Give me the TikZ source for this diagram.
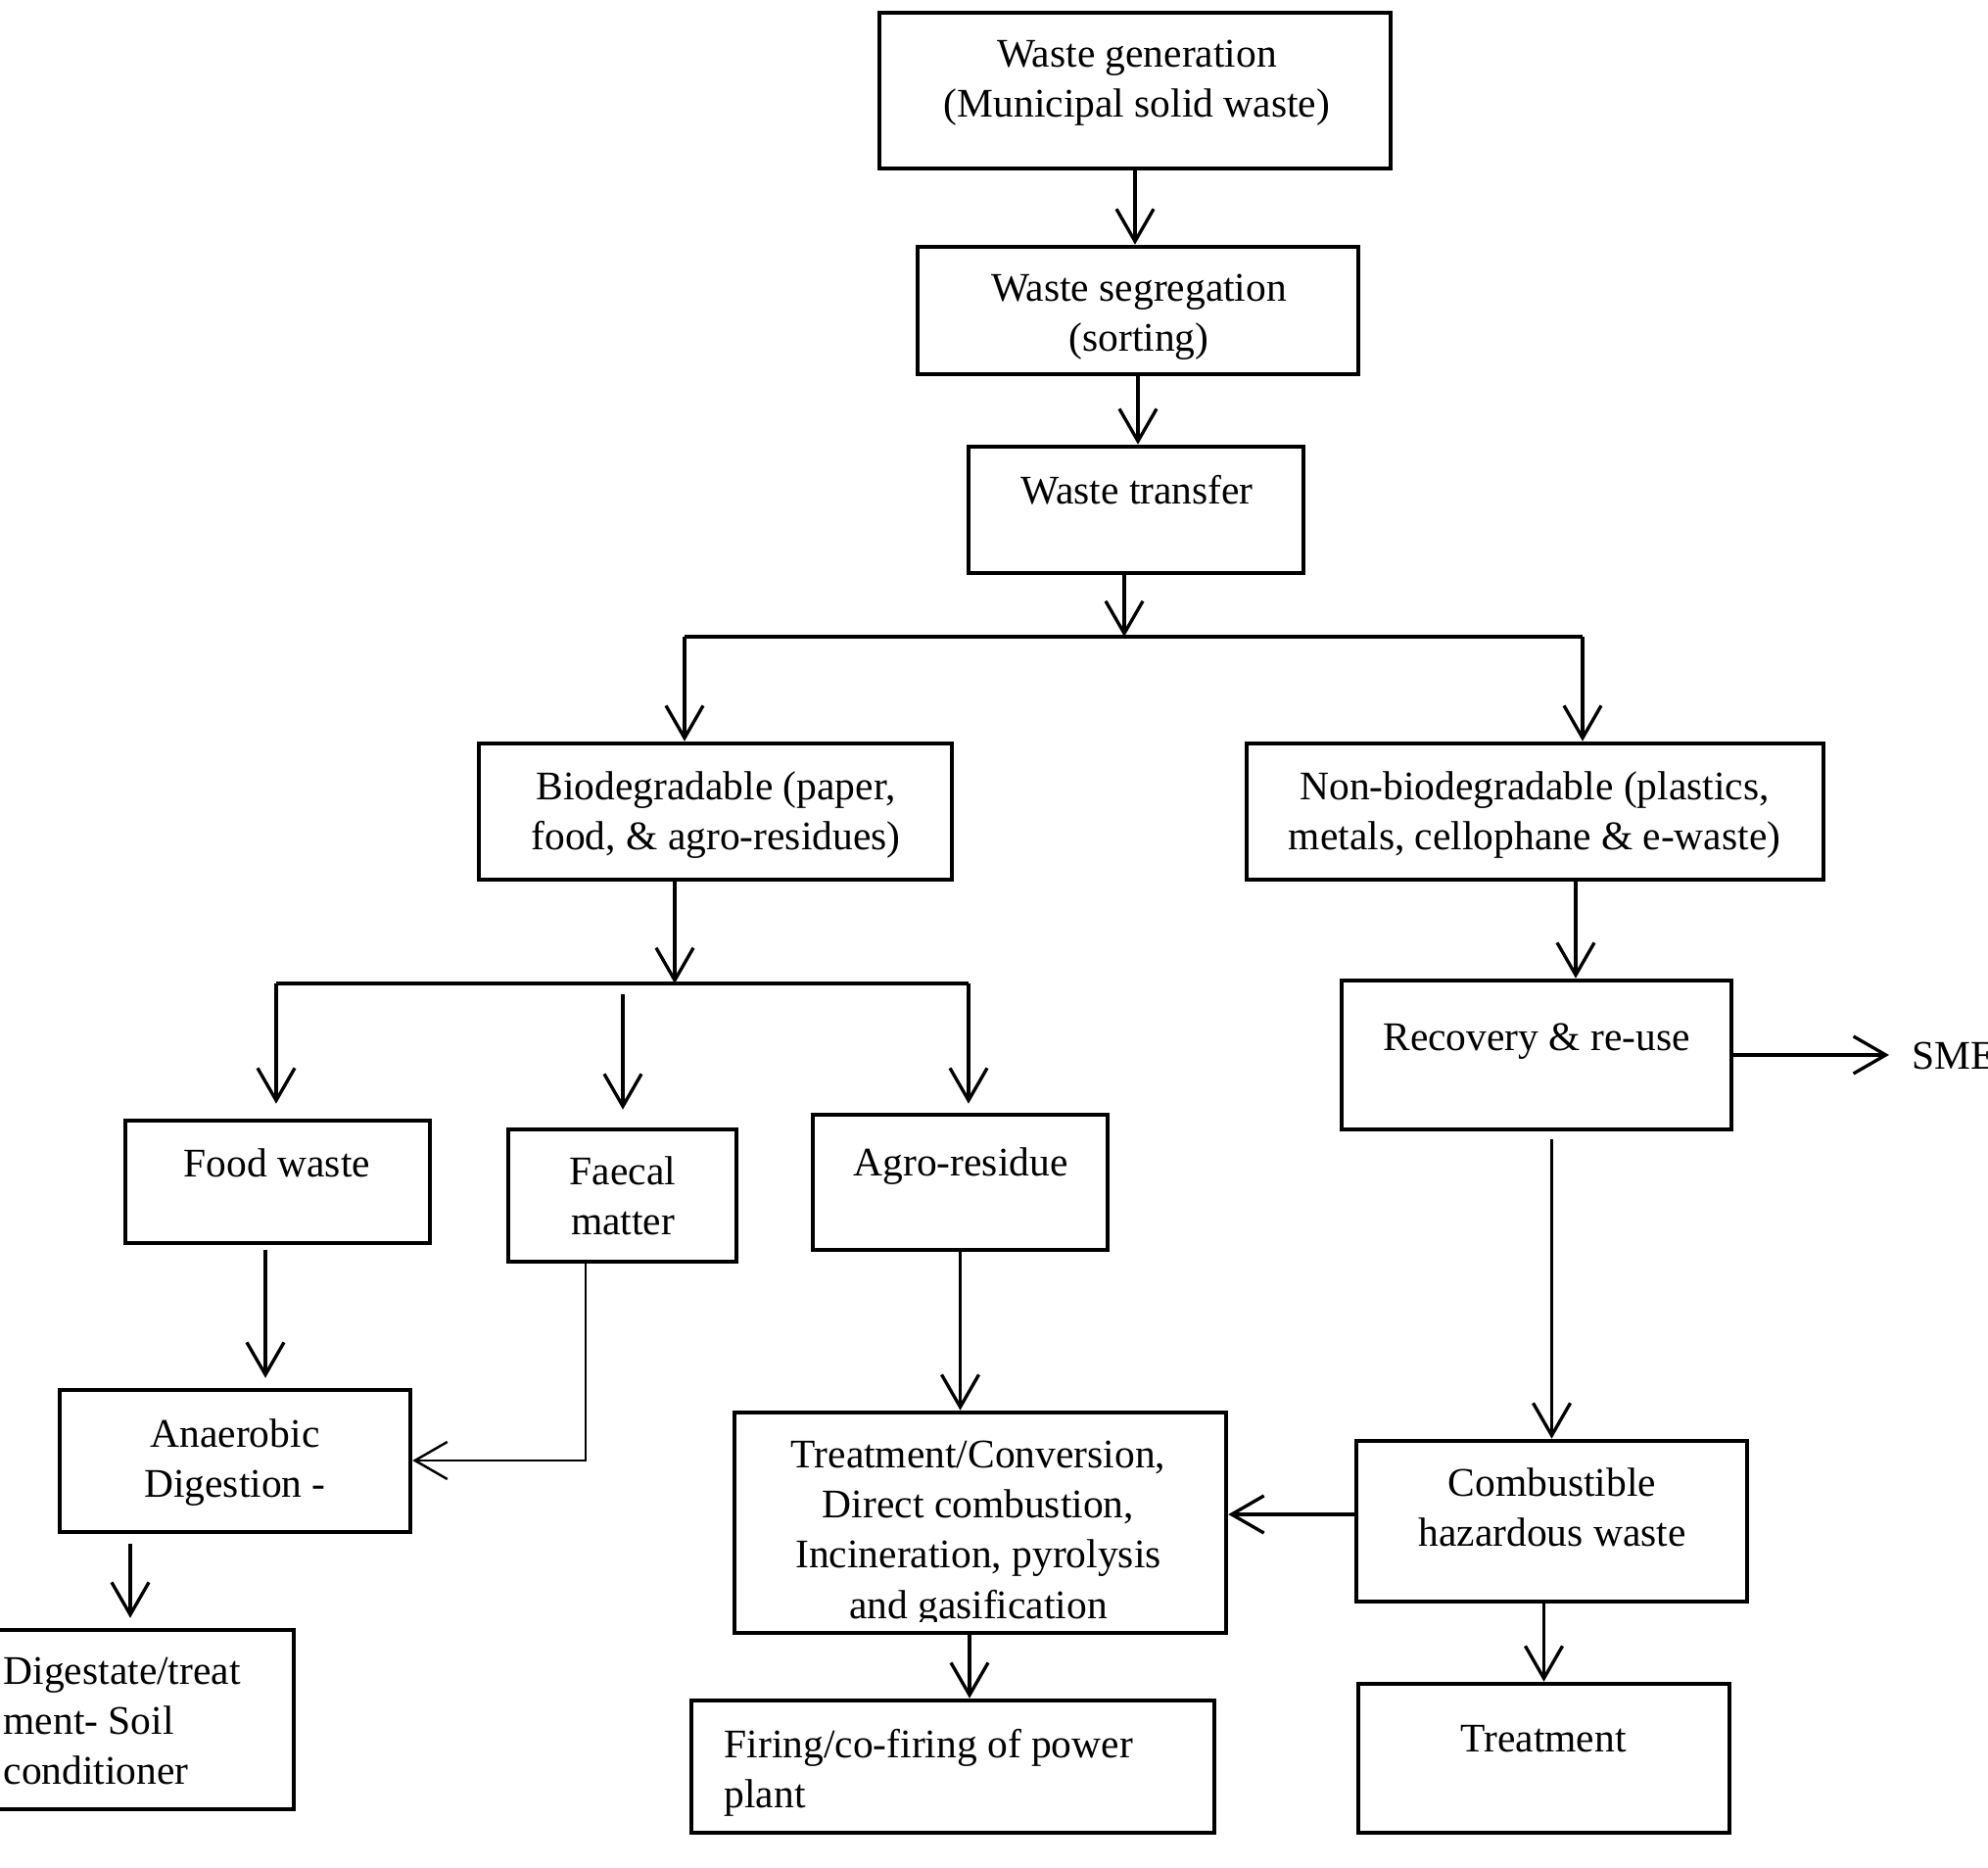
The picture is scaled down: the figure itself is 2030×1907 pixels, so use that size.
\documentclass[tikz,border=0pt]{standalone}
\usepackage{fontspec}
\setmainfont{Liberation Serif}
\usetikzlibrary{arrows.meta,fit,calc}

\begin{document}
\begin{tikzpicture}[
    x=0.01cm, y=-0.01cm,
    box/.style={draw, line width=1.3pt, inner sep=0pt},
    txt/.style={font=\fontsize{11.8}{14.6}\selectfont, align=center, inner sep=0pt},
    arrow/.style={-{Straight Barb[length=3.3mm,width=3.8mm]}, line width=0.95pt},
    link/.style={line width=0.95pt}
]
    \useasboundingbox (0,0) rectangle (2030,1907);

    % Boxes
    \node[box, fit={(898,13) (1420,172)}] (gen) {};
    \node[box, fit={(937,252) (1387,382)}] (seg) {};
    \node[box, fit={(989,456) (1331,585)}] (transfer) {};
    \node[box, fit={(489,759) (972,898)}] (bio) {};
    \node[box, fit={(1273,759) (1862,898)}] (nonbio) {};
    \node[box, fit={(128,1144) (439,1269)}] (food) {};
    \node[box, fit={(519,1153) (752,1288)}] (faecal) {};
    \node[box, fit={(830,1138) (1131,1276)}] (agro) {};
    \node[box, fit={(1370,1001) (1768,1153)}] (recovery) {};
    \node[box, fit={(61,1419) (419,1564)}] (anaer) {};
    \node[box, fit={(-20,1664) (300,1847)}] (digest) {};
    \node[box, fit={(750,1442) (1252,1667)}] (tc) {};
    \node[box, fit={(1385,1471) (1784,1635)}] (comb) {};
    \node[box, fit={(706,1736) (1240,1871)}] (firing) {};
    \node[box, fit={(1387,1719) (1766,1871)}] (treat) {};

    % Texts
    \node[txt] (gen-t) at (1161,85) {Waste generation\\(Municipal solid waste)};
    \node[txt] (seg-t) at (1163,324) {Waste segregation\\(sorting)};
    \node[txt] (transfer-t) at (1161,500) {Waste transfer};
    \node[txt] (bio-t) at (731,832) {Biodegradable (paper,\\food, \& agro-residues)};
    \node[txt] (nonbio-t) at (1567,832) {Non-biodegradable (plastics,\\metals, cellophane \& e-waste)};
    \node[txt] (food-t) at (283,1187) {Food waste};
    \node[txt] (faecal-t) at (636,1221) {Faecal\\matter};
    \node[txt] (agro-t) at (981,1191) {Agro-residue};
    \node[txt] (recovery-t) at (1569,1063) {Recovery \& re-use};
    \node[txt, anchor=west] (sme) at (1952,1078) {SME};
    \node[txt] (anaer-t) at (240,1493) {Anaerobic\\Digestion -};
    \node[txt, align=left, anchor=west] (digest-t) at (3,1757) {Digestate/treat\\ment- Soil\\conditioner};
    \begin{scope}
        \clip (tc.north west) rectangle ($(tc.south east)+(0,-14)$);
        \node[txt] (tc-t) at (999,1566) {Treatment/Conversion,\\Direct combustion,\\Incineration, pyrolysis\\and gasification};
    \end{scope}
    \node[txt] (comb-t) at (1585,1539) {Combustible\\hazardous waste};
    \node[txt, align=left, anchor=west] (firing-t) at (739,1810) {Firing/co-firing of power\\plant};
    \node[txt] (treat-t) at (1576,1775) {Treatment};

    % Junctions
    \coordinate (split1) at (1148,650);
    \coordinate (s1l) at (699,650);
    \coordinate (s1r) at (1616,650);
    \coordinate (split2) at (689,1004);
    \coordinate (s2l) at (282,1004);
    \coordinate (s2m) at (636,1015);
    \coordinate (s2r) at (989,1004);
    \coordinate (fbend) at (598,1491);
    \coordinate (fdx) at (271,0);
    \coordinate (adx) at (133,0);
    \coordinate (cty) at (0,1546);
    \coordinate (rx) at ($(recovery.north)+(40,0)$);
    \coordinate (tcf) at ($(tc.south)+(-11,0)$);

    % Arrows
    \draw[arrow] (gen.south) -- (gen.south |- seg.north);
    \draw[arrow] (seg.south) -- (seg.south |- transfer.north);
    \draw[arrow] (transfer.south -| split1) -- (split1);
    \draw[link] (s1l) -- (s1r);
    \draw[arrow] (s1l) -- (s1l |- bio.north);
    \draw[arrow] (s1r) -- (s1r |- nonbio.north);

    \draw[arrow] (bio.south -| split2) -- (split2);
    \draw[link] (s2l) -- (s2r);
    \draw[arrow, shorten >=1.5mm] (s2l) -- (s2l |- food.north);
    \draw[arrow, shorten >=1.8mm] (s2m) -- (s2m |- faecal.north);
    \draw[arrow, shorten >=0.9mm] (s2r) -- (s2r |- agro.north);

    \draw[arrow] (nonbio.south -| rx) -- (rx);
    \draw[arrow, shorten >=2.3mm] (recovery.east) -- (recovery.east -| sme.west);
    \draw[arrow, shorten <=0.8mm] (comb.north |- recovery.south) -- (comb.north);
    \draw[arrow] (comb.west |- cty) -- (tc.east |- cty);
    \draw[arrow] (treat.north |- comb.south) -- (treat.north);

    \draw[arrow] (agro.south) -- (agro.south |- tc.north);
    \draw[arrow] (tcf) -- (tcf |- firing.north);

    \draw[arrow, shorten <=0.5mm, shorten >=1mm] (food.south -| fdx) -- (anaer.north -| fdx);
    \draw[arrow, line width=0.7pt] (faecal.south -| fbend) -- (fbend) -- (fbend -| anaer.east);
    \draw[arrow, shorten <=1mm, shorten >=1mm] (anaer.south -| adx) -- (digest.north -| adx);
\end{tikzpicture}
\end{document}
